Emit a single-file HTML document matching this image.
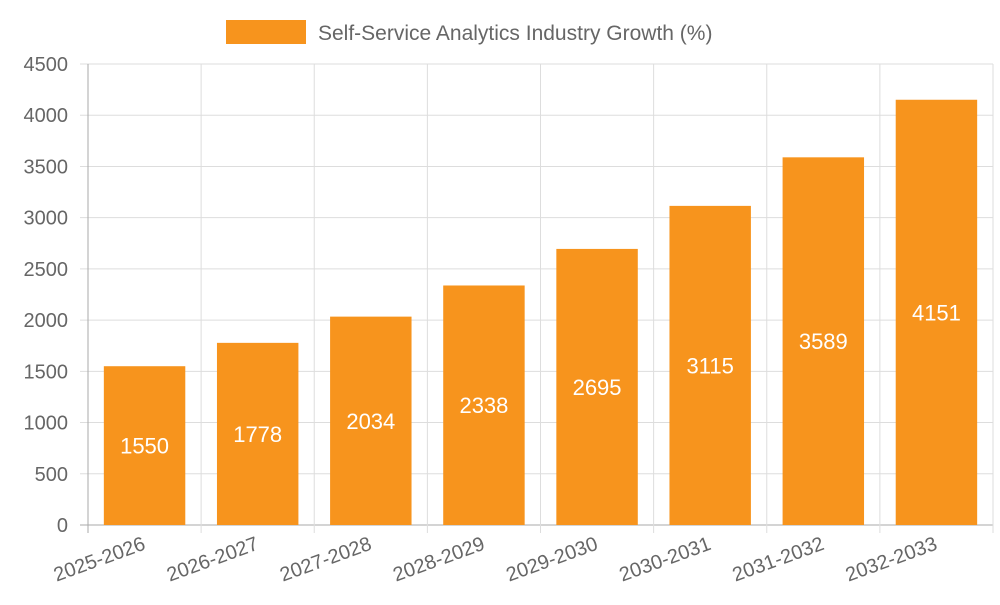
<!DOCTYPE html>
<html><head><meta charset="utf-8"><style>
body{margin:0;background:#fff;}
svg{font-family:"Liberation Sans",sans-serif;}
</style></head><body>
<svg id="chart" width="1000" height="600" xmlns="http://www.w3.org/2000/svg">
<g>
<rect x="226" y="20" width="80" height="24" fill="#f7941d"/>
<text x="318" y="40" font-size="21" fill="#666">Self-Service Analytics Industry Growth (%)</text>
</g>
<g id="grid"></g><g id="bars"></g><g id="axes"></g>
</svg>
<script>
const categories=["2025-2026","2026-2027","2027-2028","2028-2029","2029-2030","2030-2031","2031-2032","2032-2033"];
const values=[1550,1778,2034,2338,2695,3115,3589,4151];
const yTicks=[0,500,1000,1500,2000,2500,3000,3500,4000,4500];
const L=88,R=993,T=64,B=525,yMax=4500;
const ns="http://www.w3.org/2000/svg";
const bw=(R-L)/categories.length;
function x(i){return L+i*bw;}
function y(v){return B-(v/yMax)*(B-T);}
function mk(tag,attrs,parent,txt){const e=document.createElementNS(ns,tag);for(const k in attrs)e.setAttribute(k,attrs[k]);if(txt!==undefined)e.textContent=txt;document.getElementById(parent).appendChild(e);return e;}
yTicks.forEach(t=>{
 const g=mk('line',{x1:L-8,x2:R,y1:y(t),y2:y(t),stroke:t===0?'#aaa':'#ddd','stroke-width':1},'grid');
 
 
 const lb=mk('text',{x:L-20,y:y(t)+7,'text-anchor':'end','font-size':20,fill:'#666'},'axes',t);
 
 
});
for(let i=0;i<=categories.length;i++){
 const g=mk('line',{x1:x(i),x2:x(i),y1:T,y2:B+8,stroke:i===0?'#aaa':'#ddd','stroke-width':1},'grid');
 
 
}
categories.forEach((c,i)=>{
 const w=bw*0.72, cx=x(i)+bw/2;
 const r=mk('rect',{x:cx-w/2,y:y(values[i]),width:w,height:B-y(values[i]),fill:'#f7941d'},'bars');
 
 
 const v=mk('text',{x:cx,y:(y(values[i])+B)/2+8,'text-anchor':'middle','font-size':22,fill:'#fff'},'bars',values[i]);
 
 
 const tx=x(i)+bw/2+2, ty=B+24;
 const lb=mk('text',{x:tx,y:ty,'text-anchor':'end','font-size':20,fill:'#666',transform:`rotate(-20 ${tx} ${ty})`},'axes',c);
 
 
});
</script>
</body></html>
